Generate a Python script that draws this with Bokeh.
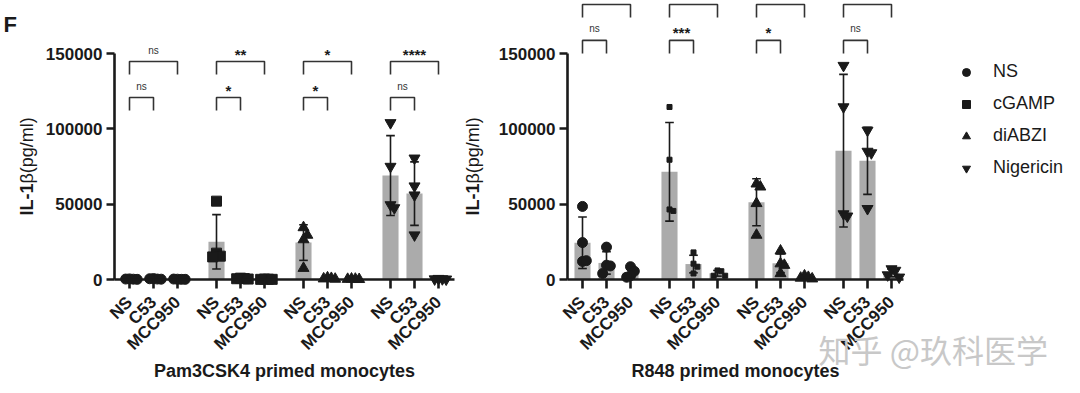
import math
import numpy as np
from bokeh.plotting import figure
from bokeh.models import (FixedTicker, Label, Legend, LegendItem, LinearAxis,
                          Range1d, NumeralTickFormatter)
from bokeh.embed import file_html
from bokeh.resources import INLINE
from bokeh.core.properties import value

# ---------------- data ----------------
stimuli = ["NS", "cGAMP", "diABZI", "Nigericin"]
treatments = ["NS", "C53", "MCC950"]
stim_markers = ["circle", "square", "triangle", "inverted_triangle"]

# Pam3CSK4 primed monocytes: per stimulus, [NS, C53, MCC950] replicates (pg/ml)
pam_ns = [[400, 200, 300, 100], [600, 300, 500, 200], [200, 100, 300, 100]]
pam_cgamp = [[52000, 17500, 15500, 15000], [900, 600, 500, 300], [300, 200, 100, 100]]
pam_diabzi = [[34500, 29500, 26500, 7500], [1200, 800, 500, 300], [400, 300, 200, 100]]
pam_nigericin = [[104000, 75000, 49500, 47500], [80500, 62000, 56000, 29500], [600, 400, 300, 200]]

# R848 primed monocytes
r848_ns = [[48500, 24500, 12000, 12500], [21500, 9500, 9000, 4000], [8500, 5500, 2500, 1500]]
r848_cgamp = [[114500, 79500, 46500, 45500], [18000, 10500, 8500, 4000], [6000, 5500, 2500, 2500]]
r848_diabzi = [[63500, 61500, 50500, 29500], [19000, 10500, 9500, 4000], [2500, 1500, 1000, 500]]
r848_nigericin = [[142000, 114500, 43500, 42000], [99000, 85000, 84000, 47000], [7000, 6000, 3000, 1500]]

pam_sig_upper = ["ns", "**", "*", "****"]
pam_sig_lower = ["ns", "*", "*", "ns"]
r848_sig_upper = ["", "", "", ""]
r848_sig_lower = ["ns", "***", "*", "ns"]

y_ticks = [0, 50000, 100000, 150000]
panel_titles = ["Pam3CSK4 primed monocytes", "R848 primed monocytes"]
y_label_bold = "IL-1"
y_label_rest = "β(pg/ml)"
panel_letter = "F"
watermark = "知乎 @玖科医学"

# ---------------- layout constants ----------------
FONT = "Liberation Sans"
INK = "#1a1a1a"
BAR_COLOR = "#ababab"
W, H = 1080, 393
PX = 24.0                      # pixels per x unit
YPP = 150000 / 226.0           # data units per pixel (y)
ZERO_Y = 279                   # pixel row of y = 0
GROUP_STEP = 3.625
BAR_W = 0.67
CAP = 0.18

p = figure(width=W, height=H,
           x_range=Range1d(0, W / PX),
           y_range=Range1d((ZERO_Y - H) * YPP, ZERO_Y * YPP),
           output_backend="svg", toolbar_location=None,
           min_border_left=0, min_border_right=0, min_border_top=0, min_border_bottom=0)
p.outline_line_color = None
p.grid.visible = False


def style_axis(ax):
    ax.axis_line_width = 2.6
    ax.axis_line_color = INK
    ax.major_tick_line_width = 2.6
    ax.major_tick_line_color = INK
    ax.major_tick_in = 0
    ax.minor_tick_line_color = None
    ax.major_label_text_font = FONT
    ax.major_label_text_font_style = "bold"
    ax.major_label_text_font_size = "17px"
    ax.major_label_text_color = INK


def swarm(vals, tol, step):
    placed, offs = [], []
    for v in vals:
        chosen = 0.0
        for c in [0.0, step, -step, 2 * step, -2 * step, 3 * step]:
            if all(not (abs(pv - v) < tol and abs(po - c) < step * 0.9) for pv, po in placed):
                chosen = c
                break
        placed.append((v, chosen))
        offs.append(chosen)
    return offs


def draw_panel(groups, sig_up, sig_low, title, axis_px, first_px, end_px, sizes,
               upper_br, lower_br, ylab_px, xaxis, yaxis):
    x0 = first_px / PX
    tick_pos, tick_lab = [], []
    bar_x, bar_top, err_lo, err_hi = [], [], [], []
    pts = []
    for g, reps in enumerate(groups):
        px_, py_ = [], []
        for i, vals in enumerate(reps):
            xc = x0 + g * GROUP_STEP + i
            tick_pos.append(xc)
            tick_lab.append(treatments[i])
            arr = np.array(vals, dtype=float)
            m, sd = arr.mean(), arr.std(ddof=1)
            bar_x.append(xc)
            bar_top.append(m)
            err_lo.append(m - sd)
            err_hi.append(m + sd)
            for v, o in zip(vals, swarm(vals, 6000, 0.16)):
                px_.append(xc + o)
                py_.append(v)
        pts.append((px_, py_))

    p.vbar(x=bar_x, top=bar_top, bottom=0, width=BAR_W, fill_color=BAR_COLOR, line_color=None)
    ex = np.array(bar_x)
    for a0, b0, a1, b1 in ((ex, err_lo, ex, err_hi), (ex - CAP, err_hi, ex + CAP, err_hi),
                           (ex - CAP, err_lo, ex + CAP, err_lo)):
        p.segment(x0=a0, y0=b0, x1=a1, y1=b1, line_color=INK, line_width=1.6)

    rends = [p.scatter(x=px_, y=py_, marker=stim_markers[g], size=sizes[g],
                       fill_color=INK, line_color=INK) for g, (px_, py_) in enumerate(pts)]

    bx, by, tx, ty, tt, ax_, ay_, at_ = [], [], [], [], [], [], [], []
    for g in range(len(groups)):
        gx = x0 + g * GROUP_STEP
        for span, (top, leg, tyv), lab in ((2, upper_br, sig_up[g]), (1, lower_br, sig_low[g])):
            bx.append([gx, gx, gx + span, gx + span])
            by.append([leg, top, top, leg])
            if lab:
                if "*" in lab:
                    ax_.append(gx + span / 2); ay_.append(tyv); at_.append(lab)
                else:
                    tx.append(gx + span / 2); ty.append(tyv); tt.append(lab)
    p.multi_line(xs=bx, ys=by, line_color="#333333", line_width=1.6)
    if tt:
        p.text(x=tx, y=ty, text=tt, text_font=value(FONT), text_font_size="10px",
               text_align="center", text_baseline="middle", text_color="#333333")
    if at_:
        p.text(x=ax_, y=ay_, text=at_, text_font=value(FONT), text_font_size="15px",
               text_font_style="bold", text_align="center", text_baseline="middle",
               text_color=INK, y_offset=4)

    # axes at fixed positions
    style_axis(yaxis)
    yaxis.ticker = FixedTicker(ticks=y_ticks)
    yaxis.formatter = NumeralTickFormatter(format="0")
    yaxis.bounds = (0, 150000)
    yaxis.fixed_location = axis_px / PX
    yaxis.major_tick_out = 8
    yaxis.major_label_standoff = 4

    style_axis(xaxis)
    xaxis.ticker = FixedTicker(ticks=tick_pos)
    xaxis.major_label_overrides = {t: l for t, l in zip(tick_pos, tick_lab)}
    xaxis.major_label_orientation = math.pi / 4
    xaxis.fixed_location = 0
    xaxis.bounds = (axis_px / PX, end_px / PX)
    xaxis.major_tick_out = 9
    xaxis.major_label_standoff = 11

    # y label with mixed weight
    p.add_layout(Label(x=ylab_px, y=H - 215, x_units="screen", y_units="screen",
                       angle=math.pi / 2, text=y_label_bold, text_font=FONT,
                       text_font_style="bold", text_font_size="18px", text_align="left",
                       text_baseline="middle", text_color=INK))
    p.add_layout(Label(x=ylab_px, y=H - 215 + 32, x_units="screen", y_units="screen",
                       angle=math.pi / 2, text=y_label_rest, text_font=FONT,
                       text_font_style="normal", text_font_size="18px", text_align="left",
                       text_baseline="middle", text_color=INK))
    p.add_layout(Label(x=(axis_px + end_px) / 2, y=H - 370, x_units="screen", y_units="screen",
                       text=title, text_font=FONT, text_font_style="bold",
                       text_font_size="18px", text_align="center", text_baseline="middle",
                       text_color=INK))
    return rends


draw_panel([pam_ns, pam_cgamp, pam_diabzi, pam_nigericin], pam_sig_upper, pam_sig_lower,
           panel_titles[0], axis_px=114, first_px=129, end_px=454, sizes=[10, 10, 11, 11],
           upper_br=(144700, 136000, 152300), lower_br=(120800, 112200, 128300),
           ylab_px=26, xaxis=p.xaxis[0], yaxis=p.yaxis[0])

xr = LinearAxis()
yr = LinearAxis()
p.add_layout(xr, "below")
p.add_layout(yr, "left")
rr = draw_panel([r848_ns, r848_cgamp, r848_diabzi, r848_nigericin], r848_sig_upper,
                r848_sig_lower, panel_titles[1], axis_px=567, first_px=582, end_px=903,
                sizes=[10, 5, 11, 11],
                upper_br=(182500, 173900, 190000), lower_br=(158700, 150000, 166500),
                ylab_px=472, xaxis=xr, yaxis=yr)

legend = Legend(items=[LegendItem(label=s, renderers=[r]) for s, r in zip(stimuli, rr)],
                location=(956, 215), margin=0, padding=8, spacing=11, label_standoff=17,
                glyph_width=20, glyph_height=20, label_height=20,
                label_text_font=FONT, label_text_font_size="18px", label_text_color=INK,
                border_line_color=None, background_fill_alpha=0)
p.add_layout(legend)

p.add_layout(Label(x=3, y=H - 24, x_units="screen", y_units="screen", text=panel_letter,
                   text_font=FONT, text_font_style="bold", text_font_size="22px",
                   text_align="left", text_baseline="alphabetic", text_color=INK))
p.add_layout(Label(x=818, y=H - 348, x_units="screen", y_units="screen", text=watermark,
                   text_font="Noto Sans CJK SC", text_font_size="32px",
                   text_align="left", text_baseline="middle", text_color="#c8c8c8"))

open("out.html", "w").write(file_html(p, INLINE))
